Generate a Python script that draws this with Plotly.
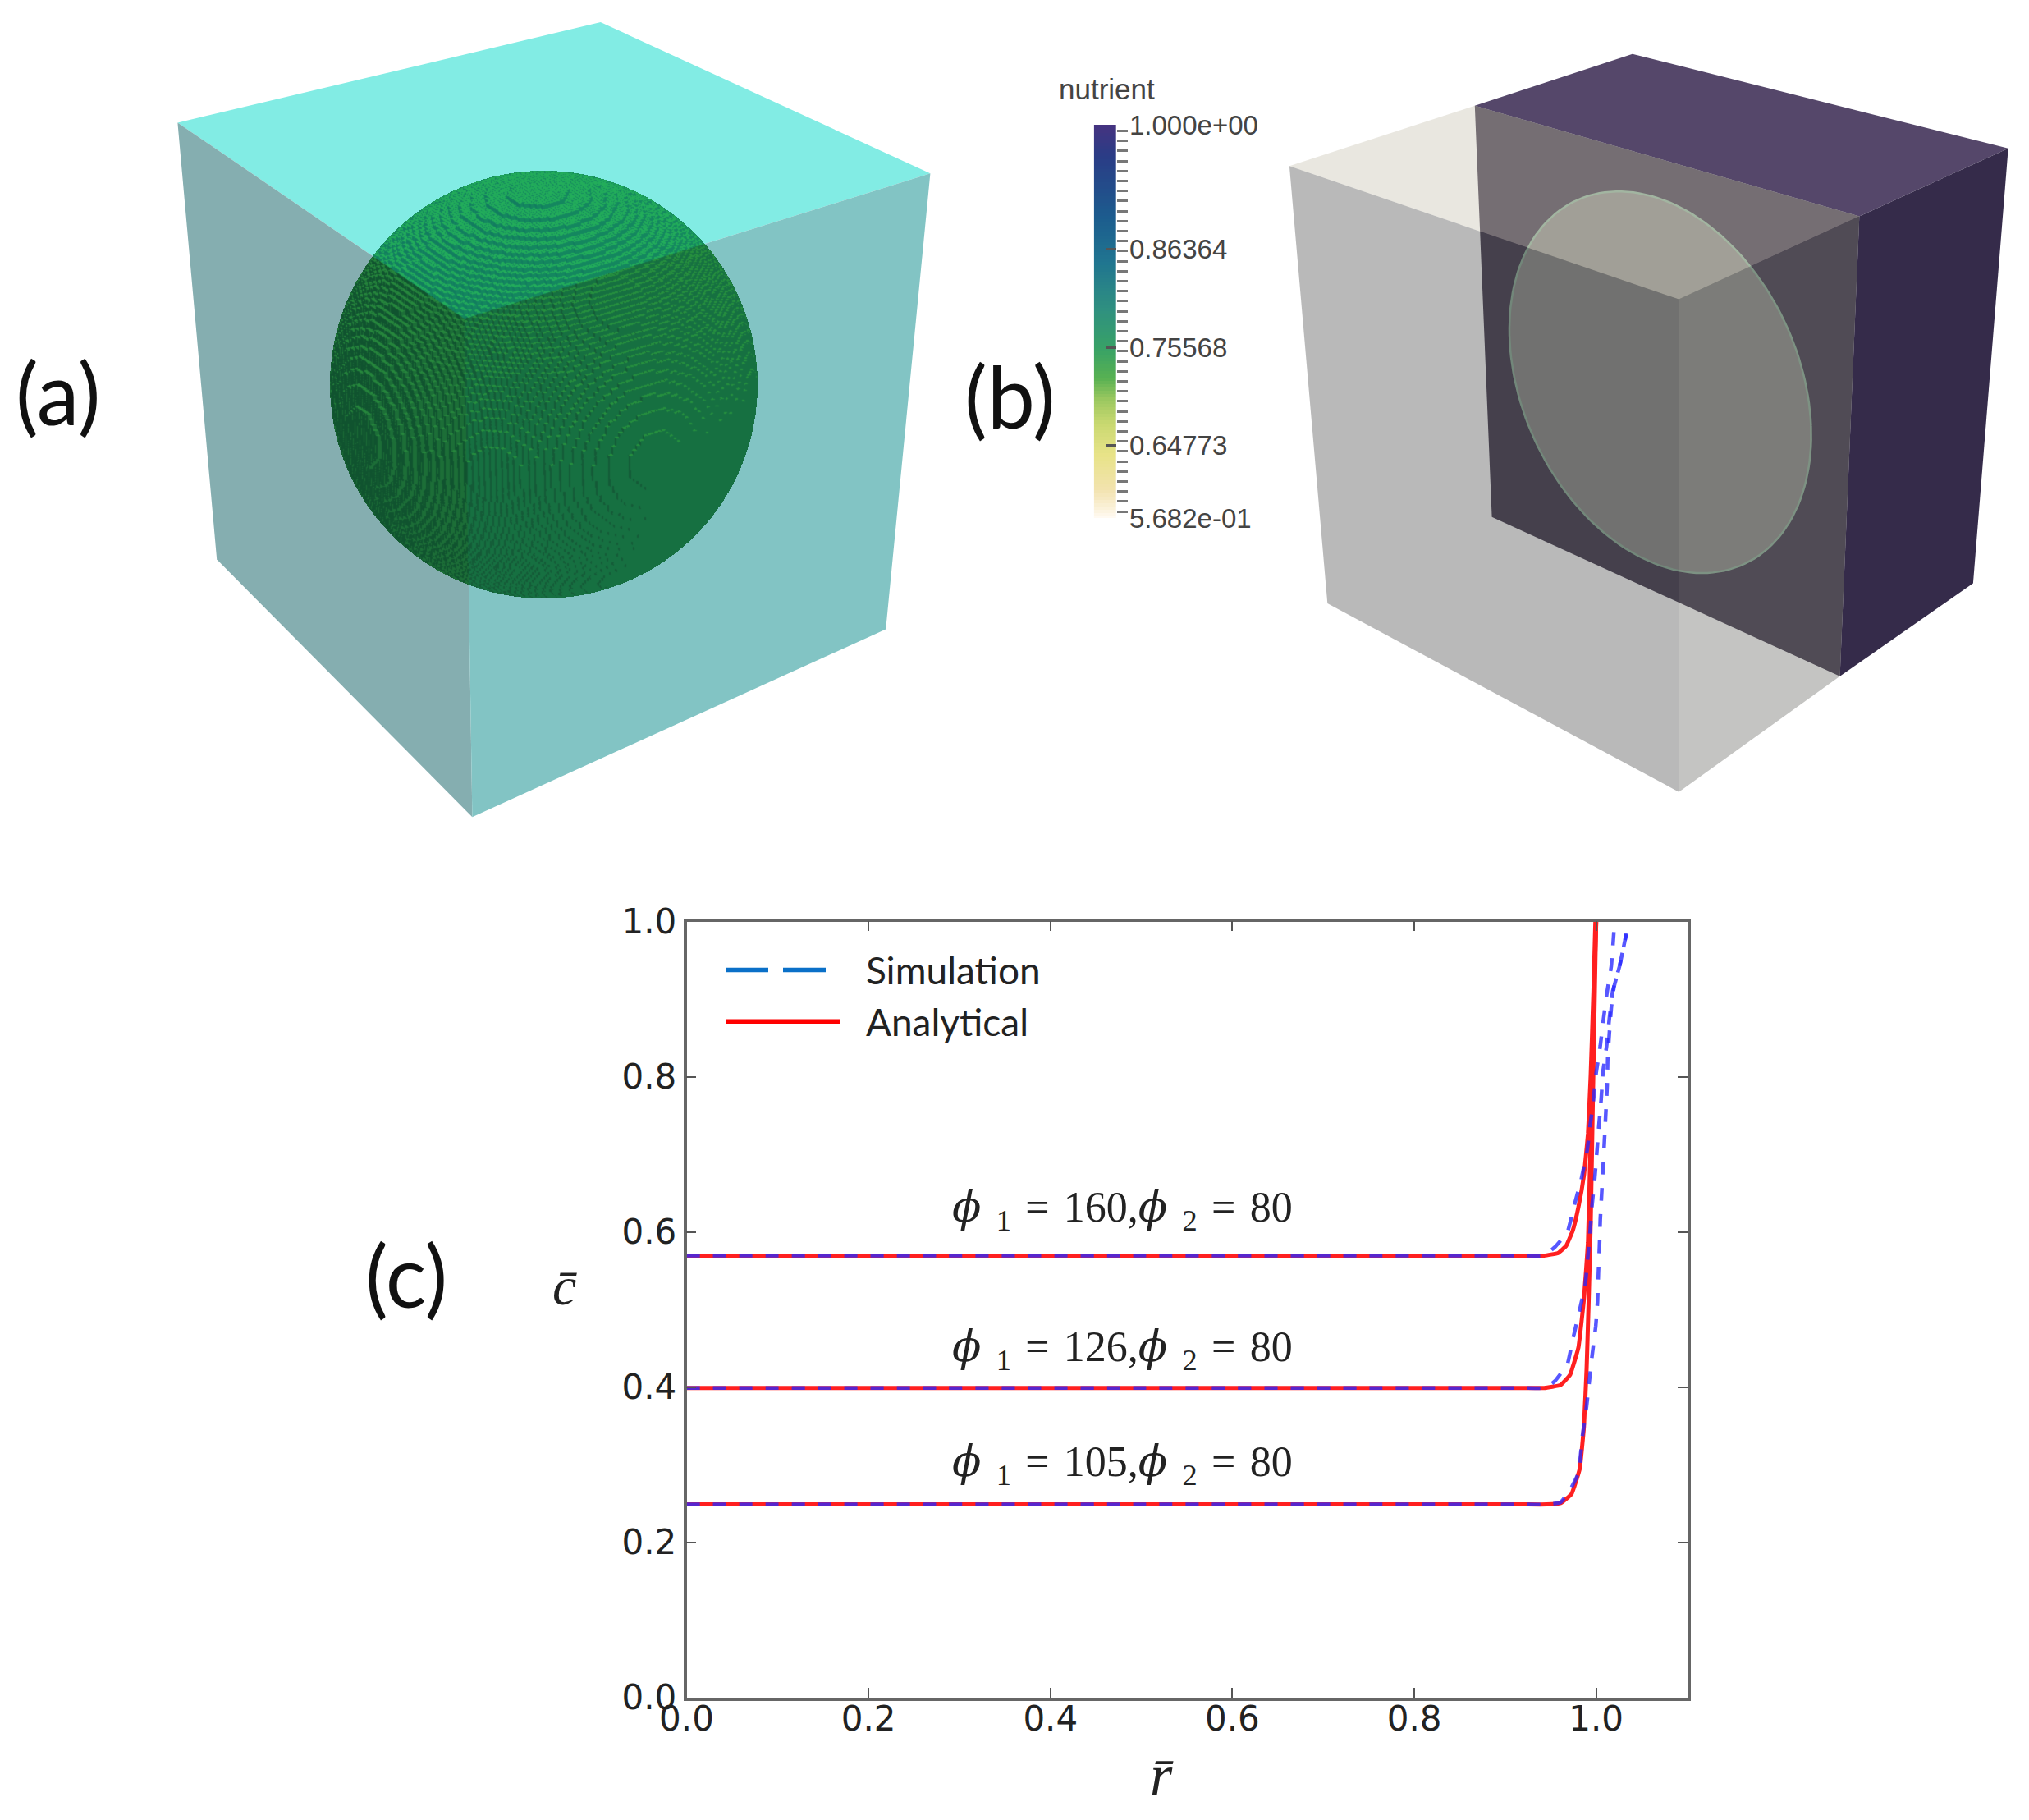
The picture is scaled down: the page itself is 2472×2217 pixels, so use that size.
import numpy as np
import plotly.graph_objects as go

W, H = 2472, 2217

# --- panel (c) curves
base_x = [0.0, 0.25, 0.5, 0.75, 0.92]
an160_x = base_x + [0.9428, 0.9579, 0.9669, 0.9744, 0.9805, 0.9865, 0.9910, 0.9940, 0.9970, 0.9991, 1.0]
an160_y = [0.5695] * 5 + [0.5695, 0.5728, 0.5819, 0.6024, 0.6322, 0.6727, 0.7267, 0.8022, 0.9102, 0.9993, 1.02]
an126_x = base_x + [0.9428, 0.9609, 0.9714, 0.9805, 0.9865, 0.9910, 0.9940, 0.9970, 1.0, 1.0012]
an126_y = [0.3989] * 5 + [0.3989, 0.4027, 0.4162, 0.4513, 0.5133, 0.5862, 0.7213, 0.8833, 0.9993, 1.02]
an105_x = base_x + [0.9458, 0.9609, 0.9729, 0.9819, 0.9865, 0.9895, 0.9916, 0.9940, 0.9964, 0.9985, 1.0, 1.001]
an105_y = [0.2488] * 5 + [0.2488, 0.2505, 0.2623, 0.2947, 0.3487, 0.4243, 0.5053, 0.6132, 0.7752, 0.9102, 0.9993, 1.02]

sim160_x = base_x + [0.9428, 0.9548, 0.9684, 0.9760, 0.9835, 0.9901, 0.9934, 0.9970, 1.0, 1.0045, 1.0081, 1.0121, 1.0166, 1.0181, 1.0202]
sim160_y = [0.5695] * 5 + [0.5695, 0.5808, 0.5998, 0.6348, 0.6673, 0.7051, 0.7375, 0.7698, 0.8050, 0.8400, 0.8751, 0.9102, 0.9426, 0.9642, 0.9993]
sim126_x = base_x + [0.9443, 0.9548, 0.9684, 0.9744, 0.9814, 0.9880, 0.9910, 0.9934, 0.9955, 0.9985, 1.0009, 1.0030, 1.0054, 1.0076, 1.0115, 1.0145, 1.0181, 1.0257, 1.0332]
sim126_y = [0.3989] * 5 + [0.3989, 0.4081, 0.4297, 0.4621, 0.4971, 0.5323, 0.5700, 0.6024, 0.6348, 0.6699, 0.7051, 0.7375, 0.7698, 0.8076, 0.8400, 0.8751, 0.9102, 0.9426, 0.9848]
sim105_x = base_x + [0.9458, 0.9609, 0.9714, 0.9805, 0.9850, 0.9895, 0.9925, 0.9955, 0.9995, 1.0015, 1.0024, 1.0036, 1.0045, 1.0060, 1.0076, 1.0091, 1.0106, 1.0121, 1.0127, 1.0145, 1.0166, 1.0196, 1.0257, 1.0332]
sim105_y = [0.2488] * 5 + [0.2488, 0.2515, 0.2677, 0.2893, 0.3379, 0.3757, 0.4081, 0.4405, 0.4783, 0.5107, 0.5458, 0.5808, 0.6160, 0.6484, 0.6835, 0.7185, 0.7536, 0.7888, 0.8238, 0.8562, 0.8886, 0.9157, 0.9426, 0.9848]

x_ticks = [0.0, 0.2, 0.4, 0.6, 0.8, 1.0]
y_ticks = [0.0, 0.2, 0.4, 0.6, 0.8, 1.0]
phi_values = [160, 126, 105]
phi_label_y = [0.629, 0.449, 0.301]

# --- colour bar of panel (b)
nutrient_ticks = [1.0, 0.86364, 0.75568, 0.64773, 0.5682]
nutrient_labels = ["1.000e+00", "0.86364", "0.75568", "0.64773", "5.682e-01"]
nutrient_scale = [[0, "#FFFAF2"], [0.07, "#F3E3B0"], [0.16, "#E8E388"], [0.24, "#C8D870"],
                  [0.30, "#9CC860"], [0.355, "#58B152"], [0.43, "#38A266"], [0.53, "#2F9080"],
                  [0.65, "#207590"], [0.765, "#1C5C8E"], [0.92, "#2A3C86"], [1, "#463380"]]
nutrient_levels = np.linspace(0.5682, 1.0, 120)

# --- cube corners, picture pixels
a_top = (731.7, 27.0)
a_left = (216.4, 149.4)
a_right = (1133.4, 211.3)
a_mid = (565.8, 388.4)
a_left_low = (264.2, 681.5)
a_low = (575.4, 995.2)
a_right_low = (1079.2, 766.5)
sphere_c = (662.5, 468.6)
sphere_r = 260.5
sphere_voxels = 50

b_back = (1988.9, 65.7)
b_slice_tl = (1796.8, 128.8)
b_right = (2446.7, 180.8)
b_slice_tr = (2265.3, 263.5)
b_slice_br = (2241.6, 823.8)
b_right_low = (2403.9, 710.5)
b_slice_bl = (1817.6, 629.7)
b_left = (1570.9, 202.3)
b_mid = (2045.4, 364.6)
b_left_low = (1617.3, 735.0)
b_low = (2045.4, 964.7)
disc_c = (2022.8, 465.6)
disc_e1 = (183.6, 52.8)
disc_e2 = (9.4, 226.4)


def face(fig, pts, color, line=None):
    xs = [p[0] for p in pts] + [pts[0][0]]
    ys = [p[1] for p in pts] + [pts[0][1]]
    fig.add_trace(go.Scatter(x=xs, y=ys, mode="lines", fill="toself", fillcolor=color,
                             line=dict(width=line[1] if line else 0, color=line[0] if line else color),
                             xaxis="x2", yaxis="y2", showlegend=False, hoverinfo="skip"))


def voxel_sphere():
    # small voxel ball seen along the cube's corner, one colour per voxel side
    edges = np.array([a_left, a_right, a_low], dtype=float) - np.array(a_mid)
    edges = edges / 670.0
    depth = np.sqrt(np.clip(1 - (edges ** 2).sum(axis=1), 0, None))
    frame = np.column_stack([edges, depth])
    a, _, b = np.linalg.svd(frame)
    frame = a @ b

    size = int(2 * sphere_r) + 3
    x0 = sphere_c[0] - size / 2
    y0 = sphere_c[1] - size / 2
    px = x0 + np.arange(size)
    py = y0 + np.arange(size)
    X, Y = np.meshgrid(px, py)
    u = X - sphere_c[0]
    v = Y - sphere_c[1]
    rho2 = u ** 2 + v ** 2
    inside = rho2 < sphere_r ** 2
    vox = sphere_r / sphere_voxels
    t = -np.sqrt(np.clip(sphere_r ** 2 - rho2, 0, None)) - 3 * vox

    def cell(t):
        return np.floor(np.stack([frame[i, 0] * u + frame[i, 1] * v + frame[i, 2] * t for i in range(3)]) / vox)

    hit = np.full(u.shape, -1)
    last = cell(t)
    for _ in range(70):
        t = t + 0.2 * vox
        now = cell(t)
        solid = (((now + 0.5) ** 2).sum(axis=0) <= sphere_voxels ** 2) & inside
        new = solid & (hit < 0)
        hit[new] = np.argmax(now != last, axis=0)[new]
        last = now

    left_k = (a_left[1] - a_mid[1]) / (a_left[0] - a_mid[0])
    right_k = (a_right[1] - a_mid[1]) / (a_right[0] - a_mid[0])
    edge_y = a_mid[1] + np.where(X < a_mid[0], left_k, right_k) * (X - a_mid[0])
    edge_x = a_mid[0] + (Y - a_mid[1]) * (a_low[0] - a_mid[0]) / (a_low[1] - a_mid[1])
    region = np.where(Y < edge_y, 0, np.where(X < edge_x, 1, 2))

    side_colors = np.array([
        [[20, 135, 95], [18, 125, 95], [34, 173, 90]],
        [[28, 110, 55], [16, 83, 47], [38, 135, 60]],
        [[22, 112, 65], [20, 90, 55], [38, 145, 62]],
    ], dtype=float)
    rgb = side_colors[region, np.clip(hit, 0, 2)]
    # soften like the scaled render
    for ax in (0, 1):
        rgb = (np.roll(rgb, 1, axis=ax) + 4 * rgb + np.roll(rgb, -1, axis=ax)) / 6
    alpha = (hit >= 0).astype(float)
    img = np.dstack([np.round(rgb), alpha])
    return img, x0, y0


fig = go.Figure()

# panel (a) cube, opaque faces
face(fig, [a_left, a_top, a_right, a_mid], "#82ECE4")
face(fig, [a_left, a_mid, a_low, a_left_low], "#85AEB0")
face(fig, [a_mid, a_right, a_right_low, a_low], "#82C4C4")

# panel (b) box: solid half, then the see-through half on top
face(fig, [b_slice_tl, b_back, b_right, b_slice_tr], "#55476A")
face(fig, [b_slice_tr, b_right, b_right_low, b_slice_br], "#352B4A")
face(fig, [b_slice_tl, b_slice_tr, b_slice_br, b_slice_bl], "#2C2339")
angle = np.linspace(0, 2 * np.pi, 160)
disc = [(disc_c[0] + np.cos(a) * disc_e1[0] + np.sin(a) * disc_e2[0],
         disc_c[1] + np.cos(a) * disc_e1[1] + np.sin(a) * disc_e2[1]) for a in angle]
face(fig, disc, "#7D7D7A", line=("#7FA58C", 2.5))
face(fig, [b_left, b_slice_tl, b_slice_tr, b_mid], "rgba(206,202,186,0.45)")
face(fig, [b_left, b_mid, b_low, b_left_low], "rgba(99,99,99,0.45)")
face(fig, [b_mid, b_slice_tr, b_slice_br, b_low], "rgba(124,124,120,0.45)")

# voxel ball goes in its own subplot so it stays above the cube
sphere_img, sphere_x0, sphere_y0 = voxel_sphere()
fig.add_trace(go.Image(z=sphere_img.tolist(), colormodel="rgba", x0=sphere_x0, y0=sphere_y0, dx=1, dy=1,
                       xaxis="x3", yaxis="y3", hoverinfo="skip"))

# colour bar
fig.add_trace(go.Heatmap(x=[0], y=nutrient_levels, z=[[v] for v in nutrient_levels],
                         colorscale=nutrient_scale, zmin=0.5682, zmax=1.0, showscale=False,
                         xaxis="x4", yaxis="y4", hoverinfo="skip"))

# panel (c)
sim_line = dict(color="rgba(40,40,255,0.78)", width=4.5, dash="16px,16px", shape="spline", smoothing=0.3)
an_line = dict(color="#FF2020", width=5, shape="spline", smoothing=0.3)
for xs, ys in [(an160_x, an160_y), (an126_x, an126_y), (an105_x, an105_y)]:
    fig.add_trace(go.Scatter(x=xs, y=ys, mode="lines", line=an_line, showlegend=False))
for xs, ys in [(sim160_x, sim160_y), (sim126_x, sim126_y), (sim105_x, sim105_y)]:
    fig.add_trace(go.Scatter(x=xs, y=ys, mode="lines", line=sim_line, showlegend=False))
fig.add_trace(go.Scatter(x=[None], y=[None], mode="lines", name="\u2002\u200aSimulation",
                         line=dict(color="#0A70C8", width=5.5, dash="52px,18px")))
fig.add_trace(go.Scatter(x=[None], y=[None], mode="lines", name="\u2002\u200aAnalytical",
                         line=dict(color="#FF0000", width=5.5)))

annotations = []
phi = '<span style="font-family:DejaVu Serif;font-style:italic;font-size:52px">ϕ</span>'
for value, y in zip(phi_values, phi_label_y):
    label = f"{phi}<sub>\u2005 1</sub>\u2004=\u2004{value},{phi}<sub>\u2005 2</sub>\u2004=\u200480"
    annotations.append(dict(x=0.479, y=y, xref="x", yref="y", text=label, showarrow=False,
                            font=dict(family="Liberation Serif", size=52, color="#222222")))
annotations.append(dict(x=688, y=1566, xref="x2", yref="y2", text="<i>c̄</i>", showarrow=False,
                        font=dict(family="Liberation Serif", size=66, color="#222222")))
annotations.append(dict(x=1416, y=2162, xref="x2", yref="y2", text="<i>r̄</i>", showarrow=False,
                        font=dict(family="Liberation Serif", size=70, color="#222222")))
for label, px, py in [("(a)", 70, 477), ("(b)", 1230, 481), ("(c)", 495, 1552)]:
    annotations.append(dict(x=px, y=py, xref="x2", yref="y2", text=label, showarrow=False,
                            font=dict(family="Lato", size=104, color="#111111")))
annotations.append(dict(x=1348, y=108, xref="x2", yref="y2", text="nutrient", showarrow=False,
                        font=dict(family="Liberation Sans", size=35, color="#444444")))

hidden = dict(visible=False, showgrid=False, zeroline=False)
axis_style = dict(showline=True, linecolor="#666666", linewidth=3.5, mirror="allticks", ticks="inside",
                  ticklen=12, tickwidth=1.5, tickcolor="#555555", showgrid=False, zeroline=False,
                  tickformat=".1f", tickfont=dict(family="DejaVu Sans", size=42, color="#222222"))

fig.update_layout(
    width=W, height=H, autosize=False,
    margin=dict(l=0, r=0, t=0, b=0, autoexpand=False),
    paper_bgcolor="white", plot_bgcolor="rgba(0,0,0,0)",
    annotations=annotations,
    showlegend=True,
    legend=dict(x=879 / W, y=1 - 1145 / H, xanchor="left", yanchor="top", bgcolor="rgba(0,0,0,0)",
                itemwidth=140, tracegroupgap=0,
                font=dict(family="Lato", size=46, color="#222222")),
    xaxis=dict(domain=[836.5 / W, 2055.5 / W], range=[0, 1.1], tickvals=x_ticks, anchor="y",
               ticklabelstandoff=-14, **axis_style),
    yaxis=dict(domain=[1 - 2067.7 / H, 1 - 1122.7 / H], range=[0, 1], tickvals=y_ticks, anchor="x", **axis_style),
    xaxis2=dict(domain=[0, 1], range=[0, W], anchor="y2", **hidden),
    yaxis2=dict(domain=[0, 1], range=[H, 0], anchor="x2", **hidden),
    xaxis3=dict(domain=[0, 1], range=[0, W], anchor="y3", **hidden),
    yaxis3=dict(domain=[0, 1], range=[H, 0], anchor="x3", **hidden),
    xaxis4=dict(domain=[1332.7 / W, 1360 / W], range=[-0.5, 0.5], anchor="y4", **hidden),
    yaxis4=dict(domain=[1 - 631 / H, 1 - 152 / H], range=[0.5682, 1.0], anchor="x4", side="right",
                tickmode="array", tickvals=nutrient_ticks, ticktext=nutrient_labels,
                ticks="inside", ticklen=12, tickwidth=2.5, tickcolor="#555555", showline=False,
                showgrid=False, zeroline=False, ticklabelstandoff=15,
                tickfont=dict(family="Liberation Sans", size=33, color="#444444"),
                minor=dict(ticks="outside", ticklen=13, tickwidth=2.5, tickcolor="#777777",
                           tick0=0.99325, dtick=0.011, showgrid=False)),
)

fig.write_html("out.html", config={"displayModeBar": False},
               post_script="document.body.style.margin='0';document.body.style.overflow='hidden';")
